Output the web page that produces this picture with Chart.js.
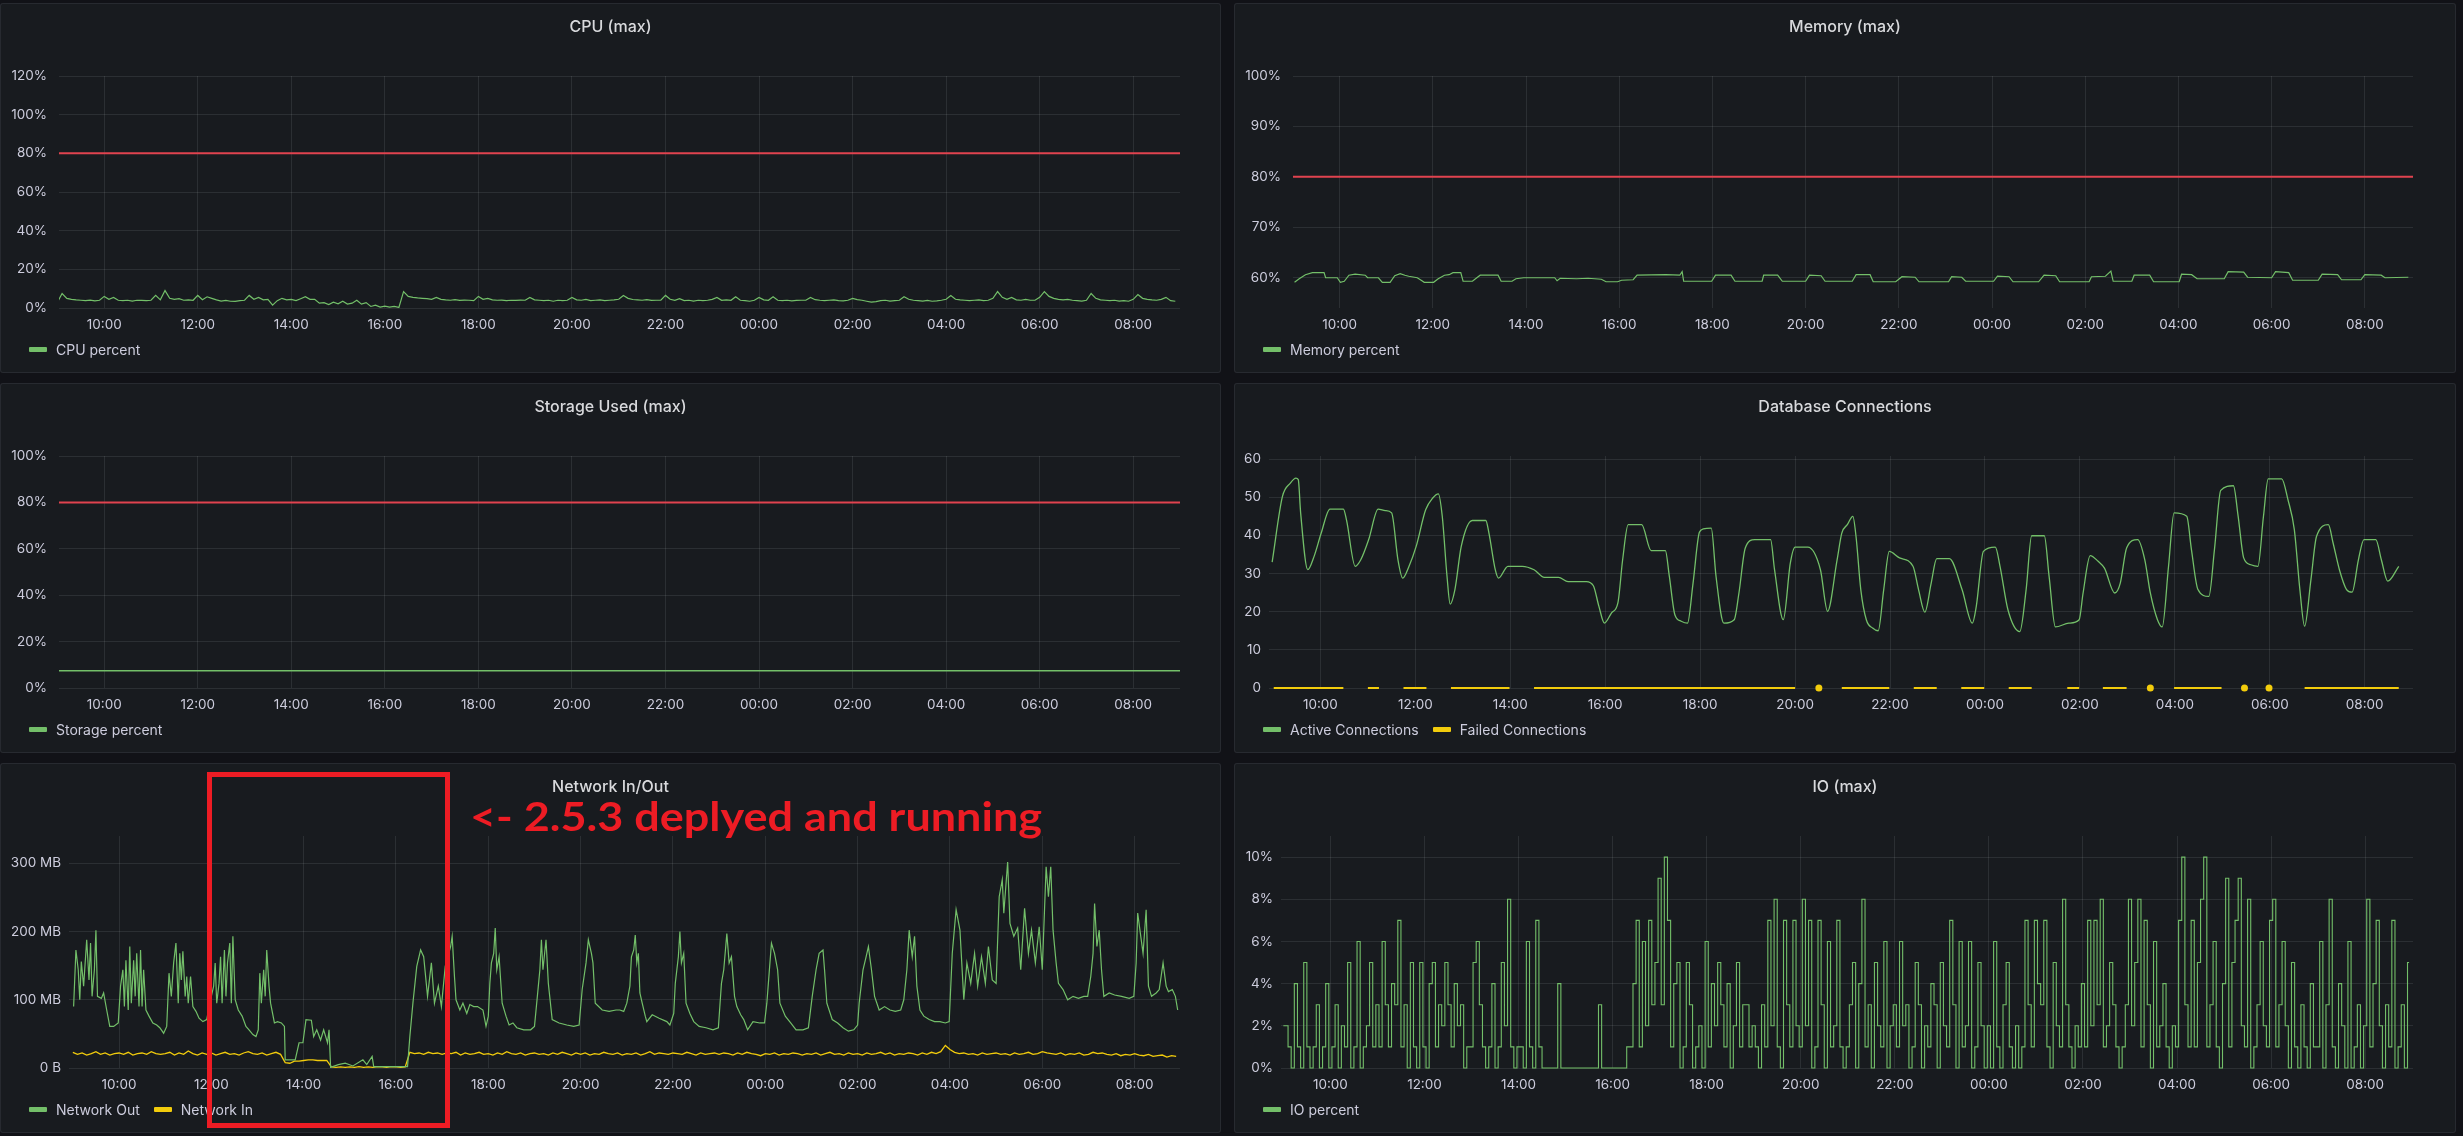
<!DOCTYPE html>
<html><head><meta charset="utf-8"><title>Dashboard</title>
<script src="https://cdn.jsdelivr.net/npm/chart.js@4.4.1/dist/chart.umd.min.js"></script>
<style>
html,body{margin:0;padding:0;background:#111217;}
body{width:2463px;height:1136px;position:relative;overflow:hidden;font-family:Inter,"Noto Sans",sans-serif;}
.panel{position:absolute;background:#181b1f;border:1px solid rgba(204,204,220,0.09);border-radius:3px;box-sizing:border-box;}
.panel canvas{position:absolute;left:0;top:0;}
.ptitle{position:absolute;left:0;right:0;top:12px;line-height:20px;text-align:center;font-size:16px;font-weight:500;color:#d8d9dc;}
.plegend{position:absolute;left:28px;top:333px;line-height:20px;font-size:14px;color:#ccccdc;white-space:nowrap;}
.plegend .item{display:inline-flex;align-items:center;margin-right:14px;}
.plegend .sw{display:inline-block;width:18px;height:5px;border-radius:1px;margin-right:9px;}
#box{position:absolute;left:207px;top:772px;width:243px;height:356px;border:5px solid #ED1C24;box-sizing:border-box;z-index:5;}
#ann{position:absolute;left:470px;top:795px;font-family:Lato,"Open Sans",sans-serif;font-weight:700;font-size:41px;line-height:41px;color:#ED1C24;white-space:nowrap;transform-origin:0 0;z-index:5;display:inline-block;}
</style></head>
<body>
<div id="box"></div>
<div id="ann">&lt;- 2.5.3 deplyed and running</div>
<script>
// ---------- DATA ----------
const timeTicks = [600,720,840,960,1080,1200,1320,1440,1560,1680,1800,1920]; // minutes from day-1 00:00
const pctTicksCpu = [0,20,40,60,80,100,120];
const pctTicksMem = [60,70,80,90,100];
const pctTicksSto = [0,20,40,60,80,100];
const dbTicks = [0,10,20,30,40,50,60];
const netTicks = [0,100,200,300];
const ioTicks = [0,2,4,6,8,10];
const threshold = 80;

// CPU percent, every 6 min from 09:00
const cpuStart = 540, cpuStep = 6;
const cpuValues = [
3,7.5,5,4.5,4.2,4,3.8,4.1,3.7,4,
6,4.5,5.5,4,3.8,4,3.6,4,3.9,3.8,
4,6.5,4.2,9,5,4.5,4.8,4,4.2,4,
6.5,4.3,5.8,5,4.2,3.6,3.9,3.5,3.4,3.8,
4,6.5,4.5,5.5,4.2,4.5,1.5,3.8,5,4.2,
4.5,3.8,4.8,5.8,4.5,4.5,2.5,2.8,1.8,3,
2.2,3.5,2,2.5,4,2,2.8,0.8,1.5,0.5,
1,0.5,0.8,0.3,8.5,6,5.5,5.2,5,4.8,
4.5,5.5,4.5,4.2,4,4.3,3.9,4.1,4,3.8,
6,4.5,5,4.2,4,4.1,3.8,4,3.9,4.1,
4,5.5,4.2,4,3.8,4,3.5,4,3.8,4,
5.5,4.2,4,4.5,3.8,4,4.2,3.8,4,4.2,
4.5,6.5,5,4.4,4.2,4,4.3,3.9,4,4.1,
6.5,4.5,4,4.8,3.8,4,3.6,4,3.8,4,
4.5,5.5,4,4.2,4,5.8,4,3.8,3.5,4,
5.5,4.2,4,5.8,4,3.8,4,3.7,3.9,4,
4,5.5,4.3,4,3.8,4,4.2,3.8,3.7,4,
5,4.3,4,3.5,3,3.3,3.8,4,3.6,3.8,
4,5.8,4.5,4,3.8,3.6,3.9,3.5,3.7,4,
4.5,6.5,4.5,4.2,4,3.8,4,4.2,3.8,4,
5,8.5,5.5,4.5,5.5,4.2,4,4.5,4,4,
5.5,8.5,6,5,4.5,4.2,4.5,4,3.8,3.6,
4,7.5,5,4.2,4,3.8,4,3.6,3.8,3.5,
4.5,7,5,4.5,4.2,4,4.5,5.5,3.8,3.5];

// Memory percent [minute, value]
const memSeries = [[542,59.1],[548,59.8],[556,60.6],[565,61],[580,61],[582,60],[597,60],[601,59.1],[606,59.3],[612,60.5],[620,60.7],[633,60.5],[636,60],[650,60],[655,59.1],[665,59.1],[671,60.4],[678,60.8],[684,60.5],[689,60.3],[700,60],[705,59.5],[709,59.1],[721,59.1],[727,59.8],[735,60.5],[741,60.6],[746,61],[756,61],[759,59.3],[771,59.3],[775,59.8],[781,60.5],[804,60.5],[808,59.3],[822,59.3],[827,59.8],[837,60],[877,60],[880,59.4],[884,59.9],[905,59.8],[920,59.9],[937,59.7],[943,59.2],[958,59.2],[963,59.5],[978,59.6],[983,60.5],[1020,60.6],[1038,60.5],[1041,61.2],[1043,59.3],[1079,59.3],[1084,60.5],[1104,60.5],[1109,59.3],[1144,59.3],[1146,60.5],[1164,60.5],[1170,59.3],[1200,59.3],[1205,60.5],[1220,60.4],[1225,59.3],[1260,59.3],[1265,60.6],[1283,60.6],[1287,59.2],[1316,59.2],[1324,60.2],[1341,60.1],[1346,59.2],[1384,59.2],[1388,60.2],[1401,60.1],[1406,59.3],[1442,59.3],[1447,60.3],[1462,60.2],[1467,59.2],[1500,59.2],[1507,60.5],[1522,60.4],[1527,59.2],[1565,59.2],[1568,60.2],[1586,60.3],[1593,61.3],[1596,59.3],[1620,59.3],[1623,60.5],[1643,60.5],[1648,59.2],[1681,59.2],[1684,60.7],[1697,60.6],[1704,59.8],[1739,59.8],[1744,61.2],[1764,61.1],[1769,60.1],[1800,60],[1805,61.2],[1822,61],[1827,59.5],[1860,59.5],[1865,60.7],[1885,60.6],[1890,59.6],[1915,59.6],[1920,60.6],[1941,60.5],[1946,60],[1976,60.1]];

// Storage percent, hourly from 09:00
const stoStart = 540, stoStep = 60;
const stoValues = [7.4,7.4,7.4,7.4,7.4,7.4,7.4,7.4,7.4,7.4,7.4,7.4,7.4,7.4,7.4,7.4,7.4,7.4,7.4,7.4,7.4,7.4,7.4,7.4,7.4];

// Active DB connections [minute, value]
const dbActive = [[539,33],[552,50.2],[562,53.7],[569,55],[572,54.6],[575,45.9],[584,31],[592,34.5],[601,40.6],[612,46.9],[629,46.9],[633,44],[644,31.9],[651,33.6],[661,38.9],[673,46.9],[682,46.5],[690,45.9],[698,33.6],[704,28.8],[712,31.9],[721,37.1],[733,46.7],[742,49.8],[749,50.9],[754,45],[760,29.3],[764,22],[770,25.8],[778,37.1],[792,43.9],[809,43.9],[813,40.6],[821,31],[825,28.8],[837,31.9],[855,31.9],[870,31],[883,29],[901,29],[913,27.9],[936,27.9],[945,26.8],[952,21.4],[959,17],[968,19.7],[976,22.3],[982,33.6],[989,42.8],[1006,42.8],[1018,36],[1036,36],[1041,29.3],[1048,19.2],[1056,17.5],[1064,17],[1071,27.5],[1079,40.8],[1084,41.7],[1094,41.9],[1100,29.3],[1110,17],[1123,17.9],[1129,24.9],[1137,36.7],[1149,38.9],[1169,38.9],[1174,31],[1185,17.9],[1194,32.8],[1200,36.9],[1216,36.9],[1232,31],[1241,20.1],[1253,33.5],[1259,40.6],[1266,42.8],[1273,45],[1277,39.7],[1283,25.8],[1290,17.9],[1298,15.7],[1305,15],[1312,25.8],[1319,35.8],[1332,34.1],[1349,31.9],[1356,25.8],[1364,19.9],[1372,27.5],[1379,33.9],[1395,33.9],[1411,25.8],[1424,17],[1429,21.4],[1438,35.8],[1453,36.9],[1459,31.9],[1469,20.5],[1484,14.8],[1492,25.8],[1499,39.9],[1515,39.9],[1521,29.3],[1529,16],[1546,17],[1559,17.9],[1564,24.9],[1573,34.7],[1583,33.2],[1591,31.4],[1604,24.9],[1611,27.5],[1619,36.7],[1633,38.9],[1642,33.6],[1649,24.9],[1658,17.9],[1664,16],[1672,31.9],[1679,45.9],[1695,45],[1701,36.2],[1709,25.9],[1723,24],[1730,36.2],[1738,51.8],[1754,53],[1760,45],[1767,34.1],[1776,32.3],[1785,31.9],[1792,45],[1798,54.8],[1815,54.8],[1823,49.3],[1831,41.5],[1838,25.8],[1844,16.2],[1852,28.4],[1859,39.7],[1874,42.8],[1880,38],[1888,31],[1897,25.8],[1904,25.1],[1912,33.6],[1919,38.9],[1934,38.9],[1941,33.6],[1949,28],[1963,31.9]];

// Failed connections (value 0): reported spans and single reports [minute]
const failedSpans = [[541,629],[660,674],[705,734],[765,839],[870,1200],[1259,1319],[1350,1379],[1410,1439],[1470,1499],[1544,1559],[1589,1619],[1679,1739],[1844,1963]];
const failedSingles = [1230,1649,1768,1799];
const failedValue = 0;

// Network Out MB [minute, value]
const netOut = [[541,90],[544,173],[547,144],[549,100],[551,156],[554,120],[556,154],[558,188],[561,129],[563,183],[565,105],[568,144],[570,202],[572,105],[577,102],[580,110],[584,85],[588,61],[593,61],[599,66],[602,120],[605,144],[607,90],[609,158],[612,85],[614,178],[616,95],[619,158],[621,105],[623,168],[626,90],[628,173],[630,90],[632,144],[635,85],[639,76],[644,66],[649,63],[653,59],[658,51],[662,61],[665,139],[668,105],[671,154],[674,183],[677,95],[679,168],[681,129],[683,171],[686,105],[688,134],[690,95],[693,134],[696,90],[700,83],[704,73],[709,68],[714,71],[718,95],[723,120],[725,154],[727,95],[730,124],[732,163],[734,95],[737,173],[739,105],[741,154],[744,183],[746,95],[748,193],[751,100],[755,85],[760,76],[765,61],[769,56],[774,49],[778,46],[781,56],[783,139],[785,95],[788,144],[790,105],[792,173],[795,120],[797,95],[802,66],[806,68],[811,66],[815,61],[816,12],[820,12],[829,12],[834,37],[839,37],[843,71],[850,70],[853,46],[857,56],[862,41],[866,56],[871,37],[873,56],[875,1],[885,5],[894,7],[904,3],[917,12],[922,5],[929,17],[931,2],[941,2],[975,2],[978,46],[982,95],[987,149],[992,173],[996,163],[1001,105],[1006,154],[1010,95],[1015,120],[1019,90],[1024,149],[1031,178],[1033,193],[1036,134],[1038,100],[1043,85],[1047,95],[1052,80],[1056,93],[1061,90],[1066,90],[1073,85],[1077,61],[1080,76],[1082,124],[1084,154],[1087,168],[1089,205],[1091,144],[1094,163],[1098,95],[1103,76],[1107,63],[1112,66],[1117,59],[1126,56],[1135,56],[1140,61],[1145,120],[1147,144],[1149,188],[1151,144],[1155,188],[1158,124],[1163,71],[1172,66],[1182,63],[1191,61],[1198,63],[1202,115],[1207,154],[1210,188],[1214,168],[1216,154],[1219,95],[1228,85],[1237,83],[1246,85],[1251,85],[1256,83],[1260,95],[1264,120],[1266,163],[1269,173],[1271,195],[1273,154],[1275,168],[1277,110],[1280,95],[1284,76],[1286,68],[1293,78],[1302,73],[1312,68],[1316,63],[1321,80],[1323,124],[1327,163],[1329,200],[1331,154],[1334,168],[1337,95],[1342,80],[1347,68],[1354,61],[1363,59],[1372,56],[1379,59],[1383,124],[1386,144],[1390,197],[1393,154],[1396,163],[1400,105],[1403,90],[1408,78],[1412,71],[1417,56],[1424,68],[1433,66],[1439,66],[1442,95],[1445,139],[1448,183],[1452,168],[1456,144],[1459,95],[1466,76],[1473,66],[1480,56],[1489,56],[1496,59],[1501,105],[1506,144],[1510,168],[1515,173],[1517,144],[1520,95],[1527,71],[1534,66],[1541,59],[1548,54],[1555,56],[1560,63],[1562,95],[1567,144],[1571,163],[1574,178],[1578,144],[1582,105],[1588,85],[1595,90],[1602,85],[1609,83],[1616,85],[1620,100],[1624,144],[1627,202],[1631,163],[1634,193],[1637,120],[1641,85],[1646,76],[1653,71],[1660,68],[1667,68],[1674,66],[1679,68],[1683,168],[1688,232],[1693,202],[1698,100],[1702,154],[1707,124],[1712,168],[1716,120],[1721,163],[1726,124],[1730,178],[1735,129],[1740,124],[1744,251],[1748,276],[1750,227],[1755,302],[1758,212],[1763,193],[1768,205],[1772,144],[1777,234],[1782,168],[1786,202],[1791,154],[1796,207],[1800,144],[1805,295],[1808,251],[1811,295],[1814,202],[1818,154],[1821,124],[1827,115],[1833,100],[1840,105],[1847,102],[1854,105],[1859,105],[1863,134],[1866,168],[1868,241],[1871,178],[1874,202],[1877,144],[1880,105],[1887,110],[1894,107],[1903,105],[1913,102],[1919,105],[1922,154],[1924,227],[1928,193],[1931,168],[1935,232],[1938,120],[1942,105],[1948,110],[1952,115],[1957,154],[1961,120],[1964,112],[1969,115],[1973,105],[1976,85]];

// Network In MB, every 6 min from 09:00
const netInStart = 540, netInStep = 6;
const netInValues = [
23,20,22,19,21,24,20,22,19,21,
22,20,23,19,21,22,20,24,21,20,
21,23,19,22,20,25,21,19,22,20,
22,19,21,23,20,21,19,22,24,21,
20,22,19,21,23,20,8,7,10,10,
11,12,12,11,11,11,1.5,1,1.5,1,
1.5,1,2,1,1.5,1,2,1.5,1,2,
1.5,1,1.5,23,21,22,20,23,21,22,
20,22,21,23,19,22,20,21,23,20,
21,19,22,20,24,21,20,22,19,21,
22,20,21,19,22,20,23,21,19,22,
20,22,19,21,20,23,21,20,22,19,
21,20,22,19,21,24,20,22,21,20,
22,21,20,23,21,19,22,20,21,22,
20,22,21,19,22,20,23,21,20,18,
21,20,22,19,21,20,22,21,19,21,
20,22,19,21,23,20,21,19,22,20,
21,19,22,20,21,23,20,22,19,21,
20,22,21,19,22,20,23,21,24,33,
27,23,21,22,20,21,19,22,20,21,
22,20,21,19,22,20,21,23,20,21,
24,22,21,20,22,19,21,20,22,19,
20,23,21,22,20,19,21,18,20,19,
21,19,18,20,17,18,19,16,18,17];

// IO percent, every 4 min from 09:00
const ioStart = 540, ioStep = 4;
const ioValues = [
2,2,1,0,4,1,0,5,1,0,1,3,0,1,4,
0,1,3,0,2,1,5,0,1,6,0,1,2,5,1,
3,1,6,3,1,4,3,7,1,3,0,5,1,0,5,
1,0,4,5,1,3,2,5,3,1,4,2,3,0,1,
1,5,6,3,1,0,1,4,0,1,5,2,8,1,0,
1,1,0,6,1,0,7,1,0,0,0,0,0,4,0,
0,0,0,0,0,0,0,0,0,0,0,3,0,0,0,
0,0,0,0,0,1,1,4,7,1,6,2,7,3,5,
9,3,10,7,1,4,5,0,1,5,3,0,1,2,0,
6,1,4,2,5,3,1,4,0,2,5,1,3,3,1,
2,1,0,3,1,7,2,8,1,0,7,3,1,7,2,
1,8,2,7,0,1,7,3,0,6,1,2,7,1,0,
1,3,5,0,4,8,1,3,0,5,2,1,6,0,2,
3,1,6,2,3,0,1,5,3,0,2,1,4,3,0,
5,2,1,7,3,0,6,1,2,6,0,1,5,2,0,
2,0,6,1,0,3,5,1,0,2,0,1,7,3,1,
7,4,3,7,1,0,5,2,1,8,3,1,0,2,1,
4,1,7,2,7,3,8,1,2,5,3,1,0,1,3,
8,2,5,8,1,7,3,0,6,1,2,4,1,0,2,
1,7,10,3,1,7,1,5,8,10,1,3,6,1,0,
4,9,1,5,7,9,2,1,8,0,1,3,6,2,1,
7,8,1,3,6,2,0,5,1,0,3,1,0,4,1,
1,6,0,3,8,1,0,4,2,0,6,0,1,3,0,
2,8,1,4,7,2,0,3,1,7,0,1,3,0,5];

// ---------- STYLE / LAYOUT ----------
const GREEN = '#73BF69', YELLOW = '#F2CC0C', RED = '#E0434F';
const GRID = 'rgba(240,250,255,0.09)', TXT = '#ccccdc';
Chart.defaults.font.family = 'Inter, "Noto Sans", sans-serif';

const panels = {
  cpu: {x:0,    y:3,   w:1221, h:370, plotL:59, plotR:1180, title:'CPU (max)'},
  mem: {x:1234, y:3,   w:1222, h:370, plotL:59, plotR:1179, title:'Memory (max)'},
  sto: {x:0,    y:383, w:1221, h:370, plotL:59, plotR:1180, title:'Storage Used (max)'},
  db:  {x:1234, y:383, w:1222, h:370, plotL:35, plotR:1179, title:'Database Connections'},
  net: {x:0,    y:763, w:1221, h:370, plotL:69, plotR:1180, title:'Network In/Out'},
  io:  {x:1234, y:763, w:1222, h:370, plotL:47, plotR:1179, title:'IO (max)'}
};
const PLOT_TOP = 73, PLOT_BOTTOM = 305, XAXIS_H = 30;

function fmtTime(v){ const h = Math.floor(v/60)%24; return String(h).padStart(2,'0')+':00'; }
function series(start, step, vals){ return vals.map((v,i)=>({x:start+i*step, y:v})); }
function pairs(arr){ return arr.map(([x,y])=>({x,y})); }
function thr(xr){ return {data:[{x:xr[0]-20,y:threshold},{x:xr[1]+20,y:threshold}], borderColor:RED, borderWidth:2, pointRadius:0}; }

function buildPanel(key, legendItems){
  const p = panels[key];
  const d = document.createElement('div'); d.className='panel';
  Object.assign(d.style,{left:p.x+'px',top:p.y+'px',width:p.w+'px',height:p.h+'px'});
  const c = document.createElement('canvas'); c.width=p.w-2; c.height=p.h-2;
  c.style.width=(p.w-2)+'px'; c.style.height=(p.h-2)+'px';
  d.appendChild(c);
  const t = document.createElement('div'); t.className='ptitle'; t.textContent=p.title; d.appendChild(t);
  const lg = document.createElement('div'); lg.className='plegend';
  legendItems.forEach(([name,col])=>{
    const it=document.createElement('span'); it.className='item';
    const sw=document.createElement('span'); sw.className='sw'; sw.style.background=col;
    const tx=document.createElement('span'); tx.textContent=name;
    it.appendChild(sw); it.appendChild(tx); lg.appendChild(it);
  });
  d.appendChild(lg);
  document.body.appendChild(d);
  return c;
}

function makeChart(key, legendItems, xr, ycfg, datasets){
  const p = panels[key];
  const c = buildPanel(key, legendItems);
  const ch = p.h-2;
  return new Chart(c, {
    type:'line',
    data:{datasets},
    options:{
      responsive:false, animation:false, devicePixelRatio:1,
      layout:{padding:{top:PLOT_TOP-1, left:0, right:(p.w-1)-p.plotR, bottom:ch-(PLOT_BOTTOM-1)-XAXIS_H}},
      plugins:{legend:{display:false}, tooltip:{enabled:false}, title:{display:false}},
      elements:{point:{radius:0}, line:{borderWidth:1.3}},
      scales:{
        x:{type:'linear', min:xr[0], max:xr[1],
          grid:{color:GRID, drawTicks:false}, border:{display:false},
          afterBuildTicks:s=>{ s.ticks = timeTicks.map(v=>({value:v})); },
          afterFit:s=>{ s.height = XAXIS_H; },
          ticks:{color:TXT, font:{size:13.5}, padding:9, maxRotation:0, autoSkip:false, callback:v=>fmtTime(v)}},
        y:{type:'linear', min:ycfg.min, max:ycfg.max,
          grid:{color:GRID, drawTicks:false}, border:{display:false},
          afterBuildTicks:s=>{ s.ticks = ycfg.ticks.map(v=>({value:v})); },
          afterFit:s=>{ s.width = p.plotL-1; },
          ticks:{color:TXT, font:{size:13.5}, padding:ycfg.pad, callback:ycfg.fmt}}
      }
    }
  });
}

const pct = v => v+'%';

// CPU
const cpuX=[542,1980];
makeChart('cpu', [['CPU percent',GREEN]], cpuX, {min:0,max:120,ticks:pctTicksCpu,pad:12,fmt:pct}, [
  thr(cpuX),
  {data:series(cpuStart,cpuStep,cpuValues), borderColor:GREEN, borderWidth:1.2}
]);
// Memory
const memX=[540,1982];
makeChart('mem', [['Memory percent',GREEN]], memX, {min:54,max:100,ticks:pctTicksMem,pad:12,fmt:pct}, [
  thr(memX),
  {data:pairs(memSeries), borderColor:GREEN, borderWidth:1.2}
]);
// Storage
const stoX=[542,1980];
makeChart('sto', [['Storage percent',GREEN]], stoX, {min:0,max:100,ticks:pctTicksSto,pad:12,fmt:pct}, [
  thr(stoX),
  {data:series(stoStart,stoStep,stoValues), borderColor:GREEN, borderWidth:1.5}
]);
// Database connections
const dbX=[535,1981];
const failedData=[];
failedSpans.forEach(([s,e])=>{ failedData.push({x:s,y:failedValue},{x:e,y:failedValue},{x:e+0.5,y:null}); });
makeChart('db', [['Active Connections',GREEN],['Failed Connections',YELLOW]], dbX, {min:0,max:60.8,ticks:dbTicks,pad:8,fmt:v=>String(v)}, [
  {data:pairs(dbActive), borderColor:GREEN, borderWidth:1.3, cubicInterpolationMode:'monotone'},
  {data:failedData, borderColor:YELLOW, borderWidth:2, spanGaps:false, clip:6},
  {data:failedSingles.map(x=>({x,y:failedValue})), showLine:false, pointRadius:3.5, pointBorderWidth:0, pointBackgroundColor:YELLOW, pointBorderColor:YELLOW, borderColor:YELLOW, clip:6}
]);
// Network
const netX=[535,1979];
makeChart('net', [['Network Out',GREEN],['Network In',YELLOW]], netX, {min:0,max:340,ticks:netTicks,pad:8,fmt:v=>v===0?'0 B':v+' MB'}, [
  {data:pairs(netOut), borderColor:GREEN, borderWidth:1.2},
  {data:series(netInStart,netInStep,netInValues), borderColor:YELLOW, borderWidth:1.3, clip:4}
]);
// IO
const ioX=[537,1981];
makeChart('io', [['IO percent',GREEN]], ioX, {min:0,max:11,ticks:ioTicks,pad:8,fmt:pct}, [
  {data:series(ioStart,ioStep,ioValues), borderColor:GREEN, borderWidth:1.1, stepped:'middle', clip:3}
]);

// annotation text width fit
(function(){
  const a=document.getElementById('ann');
  const w=a.getBoundingClientRect().width;
  if(w>0) a.style.transform='scaleX('+(572/w)+')';
})();
</script>
</body></html>
